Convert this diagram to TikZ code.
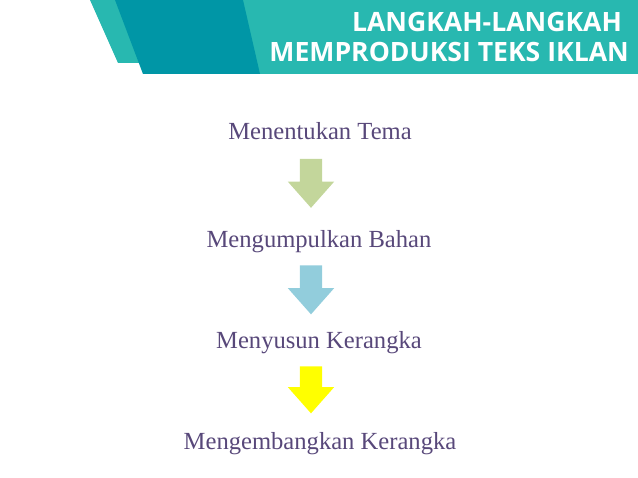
\documentclass[tikz,border=0pt]{standalone}
\usepackage{fontspec}
\setmainfont{Liberation Serif}
\newfontfamily\headfont{Open Sans}
\usetikzlibrary{shapes.arrows, positioning}

\definecolor{tealLight}{RGB}{40,184,176}
\definecolor{tealDark}{RGB}{0,150,166}
\definecolor{stepText}{RGB}{88,72,122}
\definecolor{arrowGreen}{RGB}{195,214,155}
\definecolor{arrowBlue}{RGB}{146,205,220}
\definecolor{arrowYellow}{RGB}{255,255,0}

\begin{document}
\begin{tikzpicture}[x=1pt, y=-1pt,
    steptext/.style={font=\fontsize{24.6}{28}\selectfont, text=stepText, anchor=base, inner sep=0pt},
    blockarrow/.style={single arrow, rotate=-90, draw=none, minimum height=49pt,
        inner xsep=0pt, inner ysep=11pt, single arrow head extend=12pt,
        single arrow tip angle=83, single arrow head indent=0pt},
    title/.style={font=\headfont\bfseries\fontsize{26.6}{30}\selectfont, text=white,
        align=right, anchor=base east, inner sep=0pt}]
    \useasboundingbox (0,0) rectangle (638,478);

    % Header band
    \fill[tealLight] (90,0) -- (638,0) -- (638,74) -- (200,74) -- (200,63) -- (118,63) -- cycle;
    \fill[tealDark] (115,0) -- (243,0) -- (260,74) -- (143,74) -- cycle;
    \node[title] (head1) at (629,32) {LANGKAH-LANGKAH\ };
    \node[title] (head2) at (629,62) {MEMPRODUKSI TEKS IKLAN};

    % Steps
    \node[steptext] (tema)   at (320,140) {Menentukan Tema};
    \node[steptext] (bahan)  at (319,248) {Mengumpulkan Bahan};
    \node[steptext] (susun)  at (319,349) {Menyusun Kerangka};
    \node[steptext] (kembang) at (320,450) {Mengembangkan Kerangka};

    % Arrows between steps
    \node[blockarrow, fill=arrowGreen]  (arr1) at (311,177) {};
    \node[blockarrow, fill=arrowBlue]   (arr2) at (311,283.5) {};
    \node[blockarrow, fill=arrowYellow, minimum height=47pt] (arr3) at (311,383.5) {};
\end{tikzpicture}
\end{document}
